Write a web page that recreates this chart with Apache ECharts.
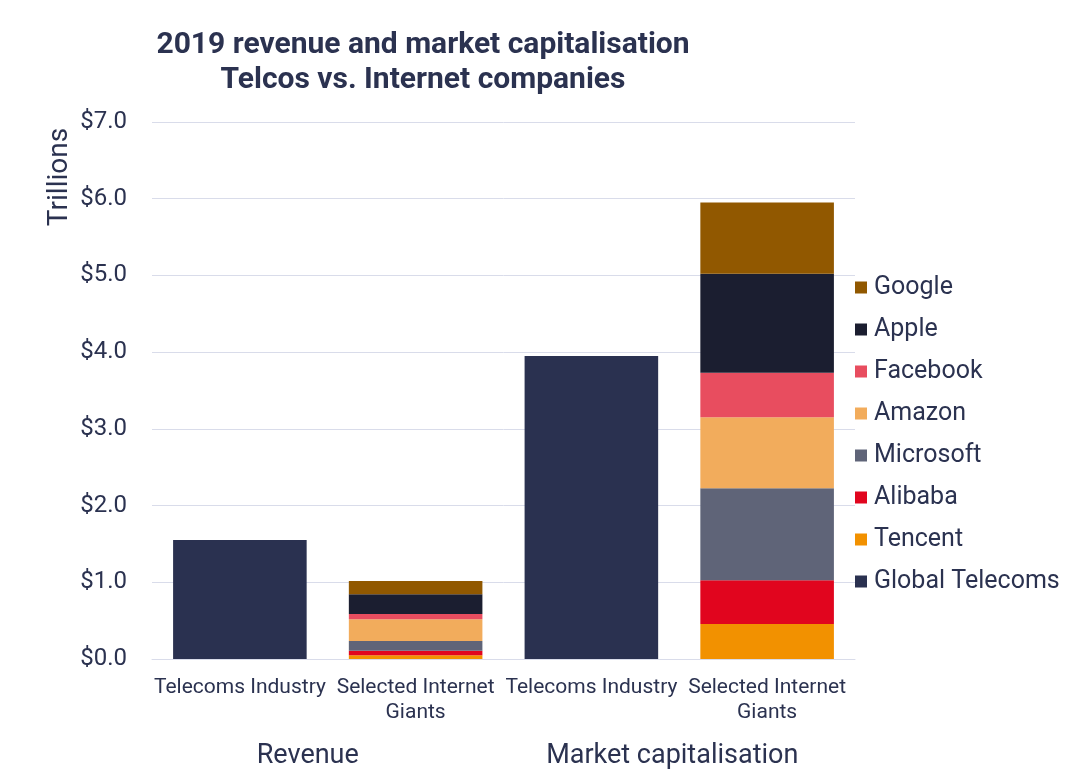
<!DOCTYPE html>
<html>
<head>
<meta charset="utf-8">
<script src="https://cdn.jsdelivr.net/npm/echarts@6/dist/echarts.min.js"></script>
<style>html,body{margin:0;padding:0;background:#fff;}#chart{width:1080px;height:775px;}</style>
</head>
<body>
<div id="chart"></div>
<script>
const categories = ['Telecoms Industry', 'Selected Internet\nGiants', 'Telecoms Industry', 'Selected Internet\nGiants'];
const groups = ['Revenue', 'Market capitalisation'];
const yTicks = [0, 1, 2, 3, 4, 5, 6, 7];
const globalTelecoms = [1.55, null, 3.95, null];
const tencent   = [null, 0.048, null, 0.456];
const alibaba   = [null, 0.060, null, 0.570];
const microsoft = [null, 0.127, null, 1.200];
const amazon    = [null, 0.282, null, 0.925];
const facebook  = [null, 0.070, null, 0.580];
const apple     = [null, 0.256, null, 1.290];
const google    = [null, 0.174, null, 0.930];

const seriesDefs = [
  ['Global Telecoms', globalTelecoms, '#2a3150'],
  ['Tencent', tencent, '#f29100'],
  ['Alibaba', alibaba, '#e1051e'],
  ['Microsoft', microsoft, '#5f6478'],
  ['Amazon', amazon, '#f2ac5c'],
  ['Facebook', facebook, '#e84d5f'],
  ['Apple', apple, '#1b1e30'],
  ['Google', google, '#915800']
];
const legendOrder = ['Google', 'Apple', 'Facebook', 'Amazon', 'Microsoft', 'Alibaba', 'Tencent', 'Global Telecoms'];
const groupLabelShift = [40, 14];
const textColor = '#2b3250';
const font = 'Roboto';

const chart = echarts.init(document.getElementById('chart'));
chart.setOption({
  backgroundColor: '#ffffff',
  animation: false,
  textStyle: { fontFamily: font },
  title: {
    text: '2019 revenue and market capitalisation\nTelcos vs. Internet companies',
    left: 418, top: 23, textAlign: 'center',
    textStyle: { fontFamily: font, fontSize: 30, fontWeight: 'bold', color: textColor, lineHeight: 35 }
  },
  graphic: [{
    type: 'text', x: 60, y: 177, rotation: Math.PI / 2,
    style: { text: 'Trillions', font: '28px Roboto', fill: textColor, align: 'center', verticalAlign: 'middle' }
  }],
  legend: {
    orient: 'vertical', left: 850, top: 270,
    itemWidth: 12, itemHeight: 12, itemGap: 17,
    icon: 'rect',
    data: legendOrder,
    textStyle: { fontFamily: font, fontSize: 25, color: textColor, padding: [0, 0, 0, 2] }
  },
  grid: { left: 152, right: 225, top: 122, bottom: 116 },
  xAxis: [{
    type: 'category', data: categories,
    axisLine: { lineStyle: { color: '#d9dcea' } },
    axisTick: { show: false },
    axisLabel: { interval: 0, fontSize: 21, color: textColor, margin: 16, lineHeight: 25, fontFamily: font }
  }, {
    type: 'category',
    data: groups.map((g, i) => ({ value: g, textStyle: { padding: [0, groupLabelShift[i], 0, 0] } })),
    position: 'bottom', offset: 72,
    axisLine: { show: false }, axisTick: { show: false },
    axisLabel: { fontSize: 27, color: textColor, margin: 12, fontFamily: font }
  }],
  yAxis: {
    type: 'value', min: yTicks[0], max: yTicks[yTicks.length - 1], interval: 1,
    axisLine: { show: false }, axisTick: { show: false },
    splitLine: { lineStyle: { color: '#d9dcea' } },
    axisLabel: { fontSize: 24, color: textColor, margin: 25, fontFamily: font,
      formatter: v => '$' + v.toFixed(1) }
  },
  series: seriesDefs.map(([name, data, color]) => ({
    name, type: 'bar', stack: 'total', data,
    xAxisIndex: 0,
    barCategoryGap: '24%',
    itemStyle: { color }
  }))
});
</script>
</body>
</html>
